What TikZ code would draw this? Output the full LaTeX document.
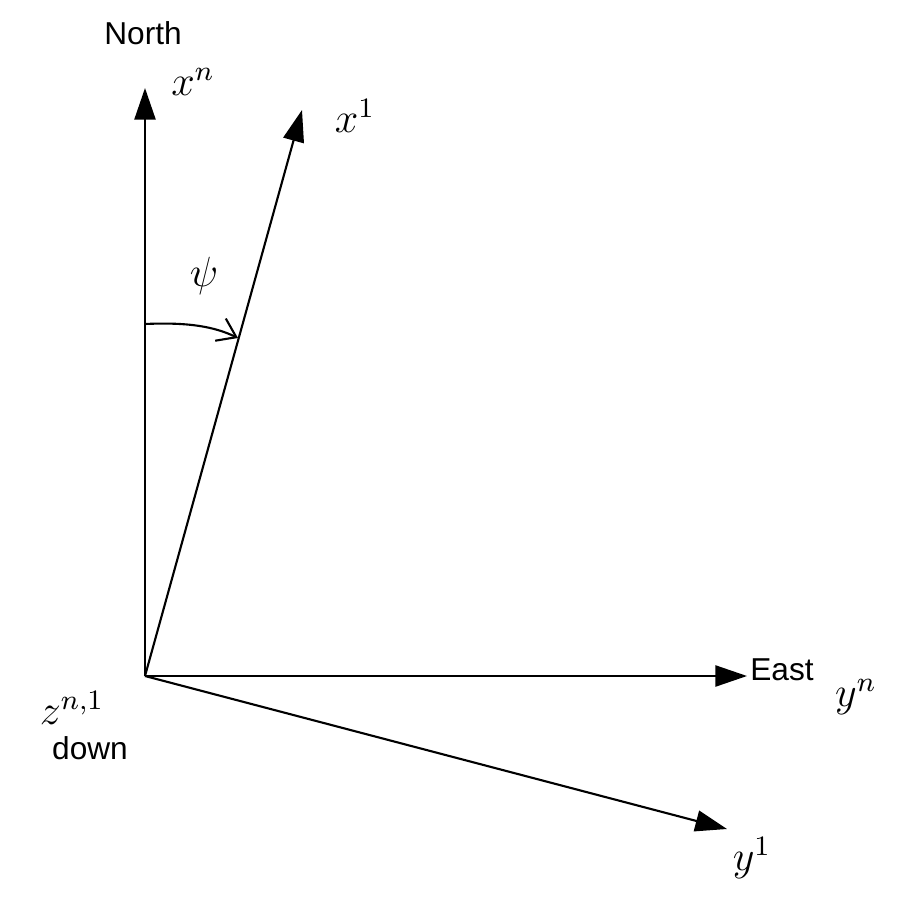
\documentclass[tikz,border=0pt]{standalone}
\usepackage{fontspec}
\setsansfont{Liberation Sans}
\usetikzlibrary{arrows.meta}
\begin{document}
\begin{tikzpicture}[x=0.01cm,y=-0.01cm,
  axis/.style={line width=0.6pt,-{Triangle[length=9pt,width=6pt]}},
  lbl/.style={font=\sffamily\fontsize{9}{10}\selectfont},
  mlbl/.style={font=\fontsize{12}{14}\selectfont}]
\useasboundingbox (0,0) rectangle (897,918);
\coordinate (o) at (145,676);
\coordinate (n) at (145,88);
\coordinate (x1) at (302,110);
\coordinate (e) at (747,676);
\coordinate (y1) at (727,829);
\coordinate (a0) at (145,324);
\coordinate (a1) at (238,338);
\draw[axis] (o) -- (n);
\draw[axis] (o) -- (x1);
\draw[axis] (o) -- (e);
\draw[axis] (o) -- (y1);
\draw[line width=0.6pt,-{Straight Barb[length=5pt,width=7pt]}] (a0) .. controls (190,322) and (215,327) .. (a1);
\node[lbl] (north) at (143,33) {North};
\node[mlbl] (xn) at (193,82) {$x^n$};
\node[mlbl] (x1l) at (355,116) {$x^1$};
\node[mlbl] (psi) at (204,276) {$\psi$};
\node[lbl] (east) at (782,670) {East};
\node[mlbl] (yn) at (856,697) {$y^n$};
\node[mlbl] (y1l) at (752,858) {$y^1$};
\node[mlbl] (z) at (72,708) {$z^{n,1}$};
\node[lbl] (down) at (90,748) {down};
\end{tikzpicture}
\end{document}
